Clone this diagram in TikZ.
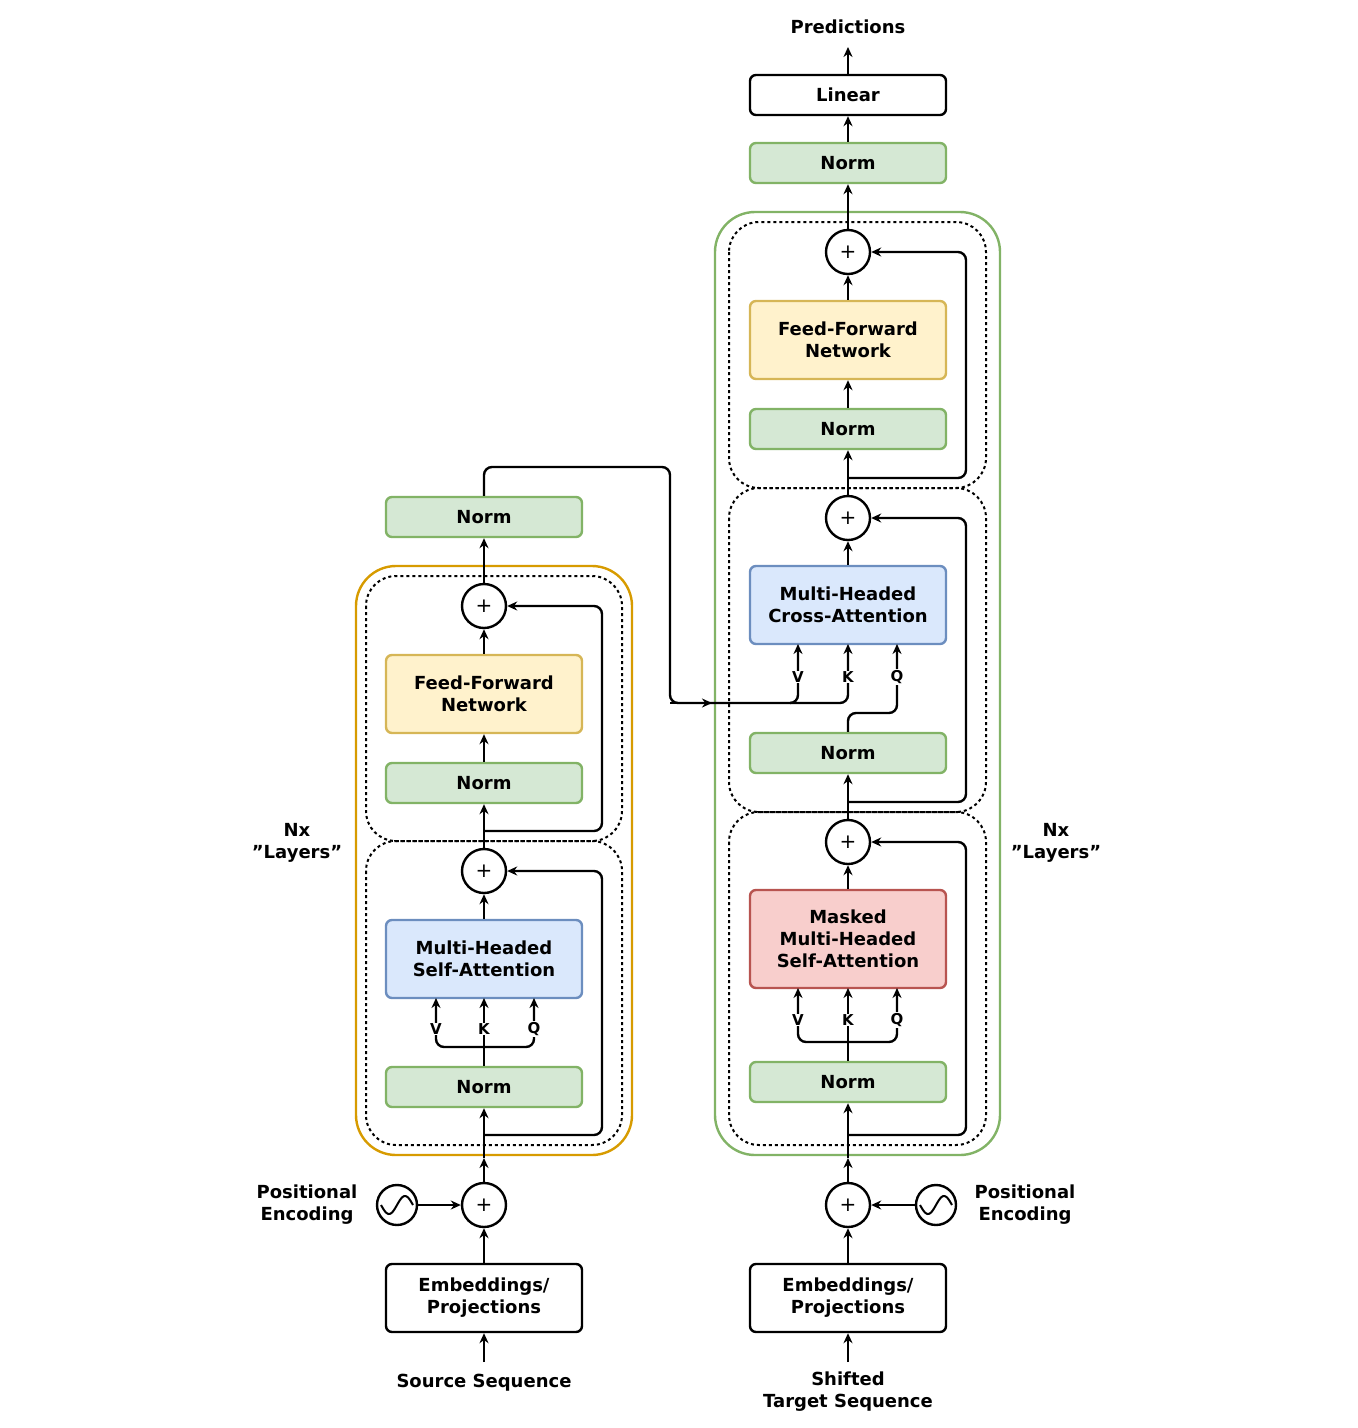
\documentclass[tikz,border=0pt]{standalone}
\usepackage{fontspec}
\setmainfont{DejaVu Sans}
\usetikzlibrary{arrows.meta}
\definecolor{gf}{HTML}{D5E8D4}\definecolor{gd}{HTML}{82B366}
\definecolor{bf}{HTML}{DAE8FC}\definecolor{bd}{HTML}{6C8EBF}
\definecolor{yf}{HTML}{FFF2CC}\definecolor{yd}{HTML}{D6B656}
\definecolor{rf}{HTML}{F8CECC}\definecolor{rd}{HTML}{B85450}
\definecolor{od}{HTML}{D79B00}
\begin{document}
\begin{tikzpicture}[x=1pt,y=-1pt,line width=2.4pt,
 font=\fontsize{18}{22}\selectfont\bfseries,
 box/.style={draw,rounded corners=6pt,minimum width=196pt,align=center,inner sep=0pt},
 norm/.style={box,fill=gf,draw=gd,minimum height=40pt},
 blue/.style={box,fill=bf,draw=bd,minimum height=78pt},
 yel/.style={box,fill=yf,draw=yd,minimum height=78pt},
 red/.style={box,fill=rf,draw=rd,minimum height=98pt},
 wht/.style={box,fill=white,draw=black,minimum height=68pt},
 plus/.style={draw,circle,minimum size=44pt,inner sep=0pt,fill=white,font=\fontsize{20}{20}\selectfont},
 arr/.style={-{Stealth[length=10pt,width=9pt]}},
 lbl/.style={fill=white,inner sep=1pt,font=\fontsize{15}{15}\selectfont\bfseries},
 layerbox/.style={dashed,line width=2pt,rounded corners=30pt},
 txt/.style={align=center}]
\useasboundingbox (0,0) rectangle (1358,1428);
% containers
\draw[od,rounded corners=40pt] (356,566) rectangle (632,1155);
\draw[layerbox] (366,841) rectangle (622,1145);
\draw[layerbox] (366,576) rectangle (622,841);
\draw[gd,rounded corners=40pt] (715,212) rectangle (1000,1155);
\draw[layerbox] (729,812) rectangle (986,1145);
\draw[layerbox] (729,488) rectangle (986,812);
\draw[layerbox] (729,222) rectangle (986,488);
% encoder nodes
\node[txt] (esrc) at (484,1383) {Source Sequence};
\node[wht] (eemb) at (484,1298) {Embeddings/\\Projections};
\node[plus] (ep1) at (484,1205) {+};
\node[draw,circle,minimum size=40pt,inner sep=0pt] (epe) at (397,1205) {};
\draw[line width=2pt] plot[domain=-16:16,samples=30] ({397+\x},{1205-9*sin(\x*11.25)});
\node[txt] (epet) at (307,1205) {Positional\\Encoding};
\node[norm] (en1) at (484,1087) {Norm};
\node[blue] (emh) at (484,959) {Multi-Headed\\Self-Attention};
\node[plus] (ep2) at (484,871) {+};
\node[norm] (en2) at (484,783) {Norm};
\node[yel] (eff) at (484,694) {Feed-Forward\\Network};
\node[plus] (ep3) at (484,606) {+};
\node[norm] (en3) at (484,517) {Norm};
\node[txt] (enx) at (297,843) {Nx\\"Layers"};
\coordinate (ec1) at (484,1158);
\draw[arr] (484,1362) -- (eemb.south);
\draw[arr] (eemb.north) -- (ep1.south);
\draw[arr] (epe.east) -- (ep1.west);
\draw[arr] (ep1.north) -- (ec1);
\draw[arr] (ec1) -- (en1.south);
\draw[arr,rounded corners=8pt] (484,1135) -- (602,1135) -- (602,871) -- (ep2.east);
\draw[arr] (en1.north) -- (484,998);
\draw[arr,rounded corners=8pt] (484,1047) -- (436,1047) -- (436,998);
\draw[arr,rounded corners=8pt] (484,1047) -- (534,1047) -- (534,998);
\node[lbl] at (436,1029) {V};\node[lbl] at (484,1029) {K};\node[lbl] at (534,1029) {Q};
\draw[arr] (emh.north) -- (ep2.south);
\draw[arr] (ep2.north) -- (en2.south);
\draw[arr,rounded corners=8pt] (484,831) -- (602,831) -- (602,606) -- (ep3.east);
\draw[arr] (en2.north) -- (eff.south);
\draw[arr] (eff.north) -- (ep3.south);
\draw[arr] (ep3.north) -- (en3.south);
% decoder nodes
\node[txt] (dsrc) at (848,1392) {Shifted\\Target Sequence};
\node[wht] (demb) at (848,1298) {Embeddings/\\Projections};
\node[plus] (dp1) at (848,1205) {+};
\node[draw,circle,minimum size=40pt,inner sep=0pt] (dpe) at (936,1205) {};
\draw[line width=2pt] plot[domain=-16:16,samples=30] ({936+\x},{1205-9*sin(\x*11.25)});
\node[txt] (dpet) at (1025,1205) {Positional\\Encoding};
\node[norm] (dn1) at (848,1082) {Norm};
\node[red] (dmh) at (848,939) {Masked\\Multi-Headed\\Self-Attention};
\node[plus] (dp2) at (848,842) {+};
\node[norm] (dn2) at (848,753) {Norm};
\node[blue] (dca) at (848,605) {Multi-Headed\\Cross-Attention};
\node[plus] (dp3) at (848,518) {+};
\node[norm] (dn3) at (848,429) {Norm};
\node[yel] (dff) at (848,340) {Feed-Forward\\Network};
\node[plus] (dp4) at (848,252) {+};
\node[norm] (dn4) at (848,163) {Norm};
\node[wht,minimum height=40pt] (dlin) at (848,95) {Linear};
\node[txt] (dpred) at (848,27) {Predictions};
\node[txt] (dnx) at (1056,843) {Nx\\"Layers"};
\coordinate (dc1) at (848,1158);
\draw[arr] (848,1362) -- (demb.south);
\draw[arr] (demb.north) -- (dp1.south);
\draw[arr] (dpe.west) -- (dp1.east);
\draw[arr] (dp1.north) -- (dc1);
\draw[arr] (dc1) -- (dn1.south);
\draw[arr,rounded corners=8pt] (848,1135) -- (966,1135) -- (966,842) -- (dp2.east);
\draw[arr] (dn1.north) -- (848,988);
\draw[arr,rounded corners=8pt] (848,1042) -- (798,1042) -- (798,988);
\draw[arr,rounded corners=8pt] (848,1042) -- (897,1042) -- (897,988);
\node[lbl] at (798,1020) {V};\node[lbl] at (848,1020) {K};\node[lbl] at (897,1020) {Q};
\draw[arr] (dmh.north) -- (dp2.south);
\draw[arr] (dp2.north) -- (dn2.south);
\draw[arr,rounded corners=8pt] (848,802) -- (966,802) -- (966,518) -- (dp3.east);
\draw[arr,rounded corners=8pt] (dn2.north) -- (848,713) -- (897,713) -- (897,644);
\draw[arr,rounded corners=8pt] (en3.north) -- (484,467) -- (670,467) -- (670,703) -- (798,703) -- (798,644);
\draw[arr,rounded corners=8pt] (790,703) -- (848,703) -- (848,644);
\draw[arr] (670,703) -- (712,703);
\node[lbl] at (798,677) {V};\node[lbl] at (848,677) {K};\node[lbl] at (897,677) {Q};
\draw[arr] (dca.north) -- (dp3.south);
\draw[arr] (dp3.north) -- (dn3.south);
\draw[arr,rounded corners=8pt] (848,478) -- (966,478) -- (966,252) -- (dp4.east);
\draw[arr] (dn3.north) -- (dff.south);
\draw[arr] (dff.north) -- (dp4.south);
\draw[arr] (dp4.north) -- (dn4.south);
\draw[arr] (dn4.north) -- (dlin.south);
\draw[arr] (dlin.north) -- (848,47);
\end{tikzpicture}
\end{document}
